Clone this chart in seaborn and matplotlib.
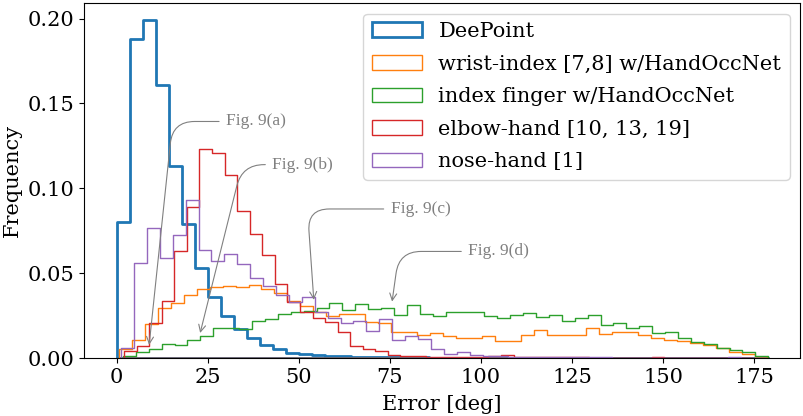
import numpy as np
import pandas as pd
import matplotlib
matplotlib.use("Agg")
import matplotlib.pyplot as plt
from matplotlib.ticker import MultipleLocator
import seaborn as sns

# Data: per-bin frequencies (50 bins per method)
labels = ["DeePoint", "wrist-index [7,8] w/HandOccNet", "index finger w/HandOccNet",
          "elbow-hand [10, 13, 19]", "nose-hand [1]"]
colors = ["#1f77b4", "#ff7f0e", "#2ca02c", "#d62728", "#9467bd"]

# bin range (deg) used by each method's histogram
ranges = [(0.0, 178.8), (0.55, 178.7), (1.7, 178.9), (2.0, 174.5), (1.2, 178.4)]

deepoint = [0.080, 0.188, 0.199, 0.161, 0.113, 0.079, 0.053, 0.036, 0.025, 0.017,
            0.012, 0.008, 0.0054, 0.0034, 0.0025, 0.002, 0.0015, 0.0013, 0.001, 0.0009,
            0.0008, 0.0007, 0.0005, 0.0005, 0.0004, 0.0004, 0.0003, 0.0003, 0.0002, 0.0002,
            0.0002, 0.0001, 0.0001, 0.0001, 0.0001, 0.0001, 0.0, 0.0, 0.0, 0.0,
            0.0, 0.0, 0.0, 0.0, 0.0, 0.0, 0.0, 0.0, 0.0, 0.0]

wrist_index = [0.0054, 0.0108, 0.0202, 0.0297, 0.0326, 0.0375, 0.0409, 0.0420, 0.0423, 0.0420,
               0.0430, 0.0405, 0.0385, 0.034, 0.031, 0.027, 0.025, 0.026, 0.026, 0.0215,
               0.021, 0.0155, 0.0155, 0.0137, 0.0147, 0.0129, 0.0119, 0.0119, 0.0129, 0.0102,
               0.0103, 0.0139, 0.0168, 0.0137, 0.0137, 0.0137, 0.0178, 0.0143, 0.0157, 0.0157,
               0.0137, 0.0119, 0.0108, 0.0099, 0.0088, 0.008, 0.006, 0.004, 0.0026, 0.0009]

index_finger = [0.0016, 0.0035, 0.0057, 0.0085, 0.0081, 0.011, 0.013, 0.0176, 0.018, 0.0175,
                0.0222, 0.0232, 0.0261, 0.0271, 0.0281, 0.0295, 0.0324, 0.0283, 0.0322, 0.029,
                0.0297, 0.0257, 0.0316, 0.0261, 0.0251, 0.0273, 0.0273, 0.0273, 0.0248, 0.0238,
                0.0254, 0.0267, 0.0241, 0.0252, 0.0222, 0.0238, 0.0257, 0.0198, 0.0206, 0.018,
                0.0192, 0.0147, 0.0152, 0.012, 0.0098, 0.0086, 0.006, 0.0046, 0.004, 0.0012]

elbow_hand = [0.0044, 0.0075, 0.021, 0.0335, 0.0634, 0.089, 0.123, 0.121, 0.1078, 0.0867,
              0.0733, 0.0606, 0.0435, 0.033, 0.0271, 0.0235, 0.0212, 0.0155, 0.0075, 0.0052,
              0.0042, 0.0018, 0.0015, 0.0012, 0.001, 0.0008, 0.0008, 0.0006, 0.0008, 0.0012,
              0.0021, 0.0008, 0.0006, 0.0005, 0.0008, 0.0006, 0.0005, 0.0004, 0.0004, 0.0003,
              0.0003, 0.0004, 0.0009, 0.0003, 0.0002, 0.0002, 0.0001, 0.0001, 0.0001, 0.0001]

nose_hand = [0.0062, 0.056, 0.0767, 0.059, 0.0727, 0.0934, 0.0636, 0.0575, 0.0614, 0.0555,
             0.047, 0.0428, 0.037, 0.033, 0.036, 0.0275, 0.0236, 0.0207, 0.0218, 0.0163,
             0.0232, 0.011, 0.013, 0.0115, 0.0054, 0.0028, 0.0038, 0.002, 0.0015, 0.0012,
             0.001, 0.0008, 0.0006, 0.0008, 0.0006, 0.0005, 0.0009, 0.0009, 0.0004, 0.0003,
             0.0002, 0.0002, 0.0002, 0.0002, 0.0002, 0.0002, 0.0003, 0.0009, 0.0003, 0.0002]

series = [deepoint, wrist_index, index_finger, elbow_hand, nose_hand]
widths = [2.0, 1.0, 1.0, 1.0, 1.0]

# annotation text, arrow target (deg, freq), text anchor, arrival angle
notes = [("Fig. 9(a)", (8.9, 0.0079), (30.0, 0.1394), 84),
         ("Fig. 9(b)", (22.9, 0.0149), (42.7, 0.114), 76),
         ("Fig. 9(c)", (54.1, 0.0344), (75.2, 0.0879), 94),
         ("Fig. 9(d)", (75.6, 0.0334), (96.5, 0.0629), 82)]

plt.rcParams["font.family"] = ["DejaVu Serif"]
plt.rcParams["font.size"] = 15

fig = plt.figure(figsize=(8.04, 4.16), dpi=100)
ax = fig.add_axes([0.1049, 0.1387, 0.8901, 0.8533])

for name, vals, (lo, hi), c, lw in zip(labels, series, ranges, colors, widths):
    edges = np.linspace(lo, hi, len(vals) + 1)
    df = pd.DataFrame({"err": (edges[:-1] + edges[1:]) / 2, "freq": vals})
    sns.histplot(data=df, x="err", weights="freq", bins=list(edges), element="step",
                 fill=True, color=c, facecolor="none", edgecolor=c, linewidth=lw,
                 label=name, ax=ax)

for txt, tip, pos, ang in notes:
    ax.annotate(txt, xy=tip, xytext=pos, ha="left", va="center",
                color="grey", fontsize=12.5, family=["Liberation Serif"],
                arrowprops=dict(arrowstyle="->", color="grey", lw=0.8,
                                shrinkA=3, shrinkB=0,
                                connectionstyle=f"angle,angleA=0,angleB={ang},rad=22"))

ax.set_xlim(-8.9, 187.6)
ax.set_ylim(0, max(deepoint) * 1.05)
ax.yaxis.set_major_locator(MultipleLocator(0.05))
ax.set_xlabel("Error [deg]", labelpad=6)
ax.set_ylabel("Frequency")
ax.legend(loc="upper right", fontsize=15, handlelength=2.4, labelspacing=0.65)

fig.savefig("out.png", dpi=100)
